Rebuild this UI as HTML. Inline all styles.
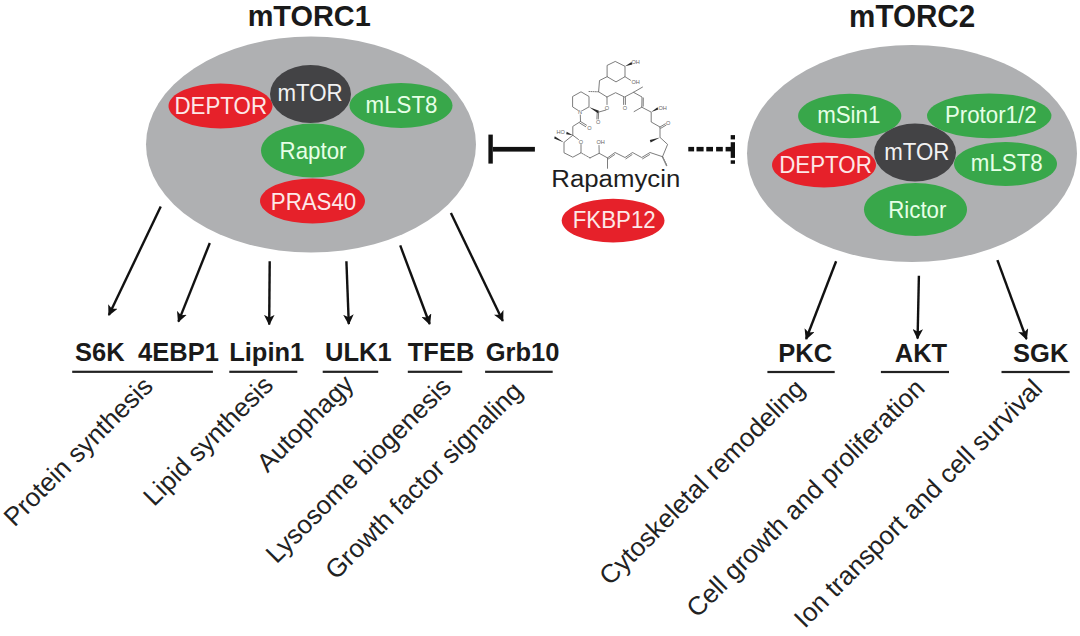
<!DOCTYPE html>
<html><head><meta charset="utf-8">
<style>
html,body{margin:0;padding:0;background:#fff;width:1080px;height:636px;overflow:hidden}
svg{display:block}
text{font-family:"Liberation Sans",sans-serif}
.t{font-weight:bold;font-size:28.9px;fill:#1a1a1a}
.b{font-size:22.3px;text-anchor:middle}
.lab{font-weight:bold;font-size:25.5px;fill:#1a1a1a;text-anchor:middle}
.rot{font-size:26px;fill:#222}
.ar{stroke:#111;stroke-width:2.4}
.ul{fill:#222}
</style></head><body>
<svg width="1080" height="636" viewBox="0 0 1080 636">
<defs>
<marker id="ah" viewBox="0 0 10 10" refX="9" refY="5" markerWidth="4.4" markerHeight="4.4" orient="auto" markerUnits="strokeWidth">
<path d="M0,0 L10,5 L0,10 L2.5,5 z" fill="#111"/>
</marker>
</defs>
<!-- titles -->
<text class="t" transform="translate(309.2,25.7) scale(1,1.02)" text-anchor="middle">mTORC1</text>
<text class="t" transform="translate(912.1,27.3) scale(1,1.04)" text-anchor="middle" style="font-size:29.6px">mTORC2</text>

<!-- mTORC1 -->
<ellipse cx="311" cy="144.5" rx="165" ry="108" fill="#afb0b2"/>
<ellipse cx="220.5" cy="106" rx="52" ry="22.5" fill="#e6212a"/>
<ellipse cx="401" cy="105.5" rx="51.5" ry="22.5" fill="#38a74a"/>
<ellipse cx="312.75" cy="150.6" rx="51.75" ry="27" fill="#38a74a"/>
<ellipse cx="312.5" cy="201" rx="52.5" ry="22.5" fill="#e6212a"/>
<ellipse cx="310.5" cy="94" rx="40.5" ry="29" fill="#434345"/>
<text class="b" transform="translate(220.75,113.75) scale(1,1.055)" fill="#fde8e8">DEPTOR</text>
<text class="b" transform="translate(401.5,113) scale(1,1.055)" fill="#e6ffe6">mLST8</text>
<text class="b" transform="translate(313,158.5) scale(1,1.055)" fill="#e6ffe6">Raptor</text>
<text class="b" transform="translate(313.5,210) scale(1,1.055)" fill="#fde8e8">PRAS40</text>
<text class="b" transform="translate(310,101.2) scale(1,1.055)" fill="#f2f2f2">mTOR</text>

<!-- mTORC2 -->
<ellipse cx="912" cy="153.5" rx="165" ry="108.5" fill="#afb0b2"/>
<ellipse cx="849.7" cy="116" rx="51.6" ry="22.2" fill="#38a74a"/>
<ellipse cx="989.2" cy="115.8" rx="62.2" ry="22.4" fill="#38a74a"/>
<ellipse cx="824" cy="165" rx="52" ry="22.5" fill="#e6212a"/>
<ellipse cx="1005.5" cy="164" rx="51.5" ry="22" fill="#38a74a"/>
<ellipse cx="915.5" cy="209.5" rx="51.5" ry="26.5" fill="#38a74a"/>
<ellipse cx="915" cy="152.5" rx="41" ry="29" fill="#434345"/>
<text class="b" transform="translate(848.75,123.1) scale(1,1.055)" fill="#e6ffe6">mSin1</text>
<text class="b" transform="translate(990.75,123.1) scale(1,1.055)" fill="#e6ffe6">Protor1/2</text>
<text class="b" transform="translate(825.5,173) scale(1,1.055)" fill="#fde8e8">DEPTOR</text>
<text class="b" transform="translate(1006.75,171.25) scale(1,1.055)" fill="#e6ffe6">mLST8</text>
<text class="b" transform="translate(917.3,217.8) scale(1,1.055)" fill="#e6ffe6">Rictor</text>
<text class="b" transform="translate(916.75,160) scale(1,1.055)" fill="#f2f2f2">mTOR</text>

<!-- inhibitors -->
<rect x="488.4" y="134.6" width="4.4" height="29" fill="#111"/>
<rect x="492.8" y="146.9" width="42.1" height="4.7" fill="#111"/>
<g fill="#111">
<rect x="688.3" y="146.9" width="5.8" height="4.5"/>
<rect x="696.5" y="146.9" width="7.1" height="4.5"/>
<rect x="706.3" y="146.9" width="6.7" height="4.5"/>
<rect x="716.1" y="146.9" width="6.7" height="4.5"/>
<rect x="725.6" y="146.9" width="5.4" height="4.5"/>
<rect x="730.7" y="135.1" width="4.3" height="4.3"/>
<rect x="730.7" y="142.2" width="4.3" height="15.7"/>
<rect x="730.7" y="160.3" width="4.3" height="3.5"/>
</g>

<!-- rapamycin -->
<g id="mol" fill="none" stroke="#5c5c5c" stroke-width="0.8" stroke-linejoin="round" stroke-linecap="round">
<!-- cyclohexane -->
<path d="M615.6,61.6 L625,66.3 L625,76.7 L616,81.9 L607.1,76.7 L607.1,65.8 Z"/>
<path d="M625,76.7 L630.5,80.2"/>
<path d="M607.1,76.7 L599.5,80.5 L598.6,91.8 L607,97 L607,104.5"/>
<path d="M598.6,91.8 L589,91.5" stroke-dasharray="1,1.2"/>
<path d="M606,110 L598.6,112.1"/>
<path d="M607,97 L615.6,92.7 L624.5,97 L633.5,92.3 L642.5,87.1"/>
<path d="M623.6,97.5 L623.6,104.5 M625.4,97.5 L625.4,104.5"/>
<path d="M633.5,92.3 L642,97 L641.8,107.2 L634.1,111.6"/>
<path d="M643.3,98 L643.2,106.2"/>
<path d="M641.8,107.2 L651.2,112.1 L651.2,122 L660,127 L660,137.4 L667.6,144.4 L662.5,156.7 L666.7,165"/>
<path d="M662.5,156.7 L666.5,165.5" stroke-width="1.4" stroke="#888"/>
<path d="M660,127 L665.3,123.8 M660.8,128.3 L666.1,125.1"/>
<path d="M662.5,156.7 L650,152.5 L641.7,157.5 L632.5,152.5 L625,157.5 L615,152.5 L607.5,157.9 L599.2,153.3 L590,157.9"/>
<path d="M649.6,154.6 L642.6,158.8 M632.1,154.6 L625.9,158.8 M614.6,154.6 L608.4,158.9"/>
<path d="M590,157.9 L581,152.8" stroke-dasharray="1,1"/>
<path d="M607.5,157.9 L607.5,168.3"/>
<path d="M599.2,153.3 L599,145.5"/>
<!-- pyran -->
<path d="M581,144.5 L581,152.8 L572.8,157.2 L564,152.8 L564,142.4 L572.8,135.2 L578.5,139.5"/>
<path d="M572.8,135.2 L572.8,126.4 L580.5,121.5 L580.3,115"/>
<path d="M580.5,121.5 L586.5,125.2 M579.7,123 L585.7,126.7"/>
<!-- piperidine -->
<path d="M582.5,110.5 L589,106.9 L589,96.5 L581,91.8 L572.6,96.5 L572.6,106.9 L577.8,110.2"/>
<path d="M598.6,112.1 L598.3,119 M597.2,112.6 L596.9,119"/>
</g>
<g fill="#2a2a2a" stroke="none">
<polygon points="625,66.3 631.5,62 632.3,64.4"/>
<polygon points="651.2,112.1 657.5,107.2 658.3,109.6"/>
<polygon points="660,137.4 649.8,140.1 650.6,142.6"/>
<polygon points="564,142.4 554.8,136.2 554.2,138.6"/>
<polygon points="572.8,135.2 566.7,131.8 566.2,134.3"/>
<polygon points="589,106.9 598.9,110.8 597.9,113.3"/>
</g>
<g fill="#666" style="font-size:5.6px;font-family:'Liberation Sans',sans-serif">
<text x="631.5" y="63.8">OH</text>
<text x="631.5" y="84">OH</text>
<text x="604.7" y="109.8">O</text>
<text x="622.8" y="109.5">O</text>
<text x="658.4" y="110.3">OH</text>
<text x="666" y="125">O</text>
<text x="596" y="124">O</text>
<text x="587.2" y="129.5">O</text>
<text x="578" y="114">N</text>
<text x="578.8" y="144.3">O</text>
<text x="556.5" y="134.3">HO</text>
<text x="596.5" y="144">OH</text>
</g>

<text transform="translate(615.8,186.9) scale(1,0.955)" text-anchor="middle" style="font-size:25.8px;fill:#1e1e1e">Rapamycin</text>
<ellipse cx="613.1" cy="220.6" rx="51.4" ry="21.8" fill="#e6212a"/>
<text class="b" transform="translate(614.2,228.1) scale(1,1.055)" fill="#fde8e8">FKBP12</text>

<!-- arrows -->
<g class="ar" marker-end="url(#ah)">
<line x1="160.75" y1="206.5" x2="108.9" y2="315"/>
<line x1="209.8" y1="243" x2="178.4" y2="321.6"/>
<line x1="269.7" y1="261.2" x2="269.2" y2="324.4"/>
<line x1="346.4" y1="261.2" x2="348.8" y2="324"/>
<line x1="400.2" y1="245.4" x2="429.7" y2="324"/>
<line x1="450.9" y1="213.1" x2="502.8" y2="320.9"/>
<line x1="836.1" y1="261.3" x2="806.1" y2="339"/>
<line x1="918.9" y1="275.8" x2="917.6" y2="338.5"/>
<line x1="997.4" y1="260.2" x2="1026.5" y2="339"/>
</g>

<!-- labels -->
<text class="lab" x="99.75" y="361">S6K</text>
<text class="lab" x="178.5" y="361">4EBP1</text>
<text class="lab" x="266.7" y="361">Lipin1</text>
<text class="lab" x="358.3" y="361">ULK1</text>
<text class="lab" x="441.1" y="361">TFEB</text>
<text class="lab" x="522.6" y="361">Grb10</text>
<text class="lab" x="805.2" y="362">PKC</text>
<text class="lab" x="921" y="362">AKT</text>
<text class="lab" x="1040.7" y="362">SGK</text>
<g class="ul">
<rect x="72.2" y="370.7" width="140.7" height="2.2"/>
<rect x="229.3" y="370.7" width="68" height="2.2"/>
<rect x="322.7" y="370.7" width="55.5" height="2.2"/>
<rect x="407.8" y="370.7" width="54.4" height="2.2"/>
<rect x="485.1" y="370.7" width="67.6" height="2.2"/>
<rect x="767.4" y="370.9" width="67.3" height="2.2"/>
<rect x="880.9" y="370.9" width="68.1" height="2.2"/>
<rect x="1001.5" y="370.9" width="68.1" height="2.2"/>
</g>

<!-- rotated labels -->
<text class="rot" transform="translate(14.4,527.7) rotate(-45)">Protein synthesis</text>
<text class="rot" transform="translate(154.1,507.2) rotate(-45)">Lipid synthesis</text>
<text class="rot" transform="translate(267.4,473.6) rotate(-45)">Autophagy</text>
<text class="rot" transform="translate(276.5,564.4) rotate(-45)">Lysosome biogenesis</text>
<text class="rot" transform="translate(336,580.7) rotate(-45)">Growth factor signaling</text>
<text class="rot" transform="translate(610.1,586.5) rotate(-45)">Cytoskeletal remodeling</text>
<text class="rot" transform="translate(697.2,618.8) rotate(-45)">Cell growth and proliferation</text>
<text class="rot" transform="translate(804.8,629.2) rotate(-45)">Ion transport and cell survival</text>
</svg>
</body></html>
